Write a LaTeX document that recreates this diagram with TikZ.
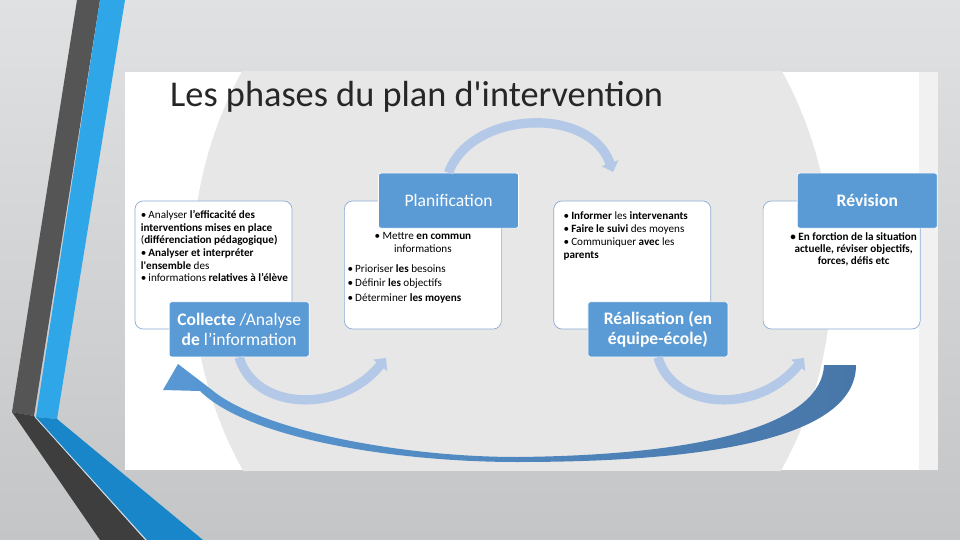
\documentclass[tikz,border=0pt]{standalone}
\usepackage{fontspec}
\setmainfont{Carlito}
\usetikzlibrary{arrows.meta, positioning}

\definecolor{slidetop}{RGB}{224,225,226}
\definecolor{slidebot}{RGB}{195,197,199}
\definecolor{darkbar}{RGB}{85,85,85}
\definecolor{darkbarlow}{RGB}{62,62,62}
\definecolor{bluebar}{RGB}{46,166,232}
\definecolor{bluebarlow}{RGB}{24,134,200}
\definecolor{disc}{RGB}{231,231,231}
\definecolor{phaseblue}{RGB}{91,155,213}
\definecolor{cardline}{RGB}{140,172,214}
\definecolor{loopblue}{RGB}{180,201,232}
\definecolor{backA}{RGB}{88,152,212}
\definecolor{backB}{RGB}{72,118,168}
\definecolor{titlegray}{RGB}{38,38,38}

\newcommand{\itm}{\par\hangindent=6.5pt\hangafter=1\noindent\makebox[6.5pt][l]{•}}

\begin{document}
\begin{tikzpicture}[
    x=0.03cm, y=-0.03cm,
    node distance = 1.55cm,
    card/.style={
        draw=cardline, fill=white, line width=.6pt, rounded corners=7pt,
        minimum width=4.71cm, minimum height=3.84cm
    },
    phase/.style={
        draw=white, fill=phaseblue, line width=.6pt, rounded corners=2pt,
        minimum width=4.2cm, minimum height=1.65cm, inner sep=2pt,
        text=white, align=center, font=\fontsize{15}{17.5}\selectfont
    },
    txt/.style={
        inner sep=0pt, align=flush left, font=\fontsize{9.5}{10.8}\selectfont
    },
    loop/.style={
        draw=loopblue, line width=8pt, -{Triangle[length=8pt,width=15pt]}
    }
]

    \useasboundingbox (0,0) rectangle (960,540);
    \shade[top color=slidetop, bottom color=slidebot] (0,0) rectangle (960,540);

    \fill[darkbar] (77,0) -- (100,0) -- (34,416) -- (12,412) -- cycle;
    \fill[darkbarlow] (12,412) -- (34,416) -- (145,540) -- (100,540) -- cycle;
    \fill[bluebar] (100,0) -- (125,0) -- (57,419) -- (36,417) -- cycle;
    \fill[bluebarlow] (36,417) -- (57,419) -- (203,540) -- (147,540) -- cycle;
    \draw[white!75!bluebar, line width=.5pt] (35,417) -- (146,540);

    \fill[white] (125,72) rectangle (919,470);
    \begin{scope}
        \clip (125,72) rectangle (919,470);
        \fill[disc] (512,270) ellipse [x radius=9.6cm, y radius=11.1cm];
    \end{scope}
    \fill[disc!60!white] (919,72) rectangle (938,470);

    \node[anchor=base west, inner sep=0pt, text=titlegray, font=\fontsize{31}{31}\selectfont](title) at (170,107){Les phases du plan d\textquotesingle intervention};

    \path[left color=backA, right color=backB]
        (824,365) -- (856,365)
        .. controls (856,430) and (740,462) .. (517,462)
        .. controls (400,462) and (250,440) .. (200,391)
        -- (163,390) -- (178,364) -- (212,390)
        .. controls (260,430) and (400,457) .. (517,457)
        .. controls (720,455) and (822,420) .. (824,365) -- cycle;

    \node[card](c1) at (213.5,265){};
    \node[card,right=of c1](c2){};
    \node[card,right=of c2](c3){};
    \node[card,right=of c3](c4){};

    \node[phase](p1) at ([xshift=.77cm]c1.south){\textbf{Collecte} /Analyse\\\textbf{de} l’information};
    \node[phase](p2) at ([xshift=.77cm]c2.north){Planification};
    \node[phase](p3) at ([xshift=.77cm]c3.south){\textbf{Réalisation (en}\\\textbf{équipe-école)}};
    \node[phase](p4) at ([xshift=.77cm]c4.north){\textbf{Révision}};

    \node[txt, text width=4.7cm, anchor=north west](t1) at ([shift={(.18cm,-.15cm)}]c1.north west){
        \itm Analyser \textbf{l’efficacité des}\\\textbf{interventions mises en place}\\(\textbf{différenciation pédagogique)}
        \itm \textbf{Analyser et interpréter}\\\textbf{l\textquotesingle ensemble} des
        \itm informations \textbf{relatives à l’élève}
    };
    \node[txt, align=flush center, anchor=north](t2a) at ([yshift=-.95cm]c2.north){
        • Mettre \textbf{en commun}\\informations
    };
    \node[txt, text width=4.5cm, anchor=north west, font=\fontsize{9.5}{12.3}\selectfont](t2b) at ([shift={(.1cm,-1.71cm)}]c2.north west){
        \itm Prioriser \textbf{les} besoins
        \itm Définir \textbf{les} objectifs
        \itm Déterminer \textbf{les moyens}
    };
    \node[txt, text width=4.5cm, anchor=north west, font=\fontsize{9.5}{11.3}\selectfont](t3) at ([shift={(.3cm,-.15cm)}]c3.north west){
        \itm \textbf{Informer} les \textbf{intervenants}
        \itm \textbf{Faire le suivi} des moyens
        \itm Communiquer \textbf{avec} les\\\textbf{parents}
    };
    \node[txt, align=flush center, anchor=north, font=\fontsize{9.5}{10.2}\selectfont](t4) at ([shift={(.36cm,-.95cm)}]c4.north){
        \textbf{• En forction de la situation}\\\textbf{actuelle, réviser objectifs,}\\\textbf{forces, défis etc}
    };

    \coordinate (e1) at (386,358);
    \coordinate (e2) at (613,172);
    \coordinate (e3) at (804,358);
    \draw[loop] (p1.south) .. controls +(15,53) and +(-46,57) .. (e1);
    \draw[loop] (p2.north) .. controls +(22,-62) and +(-23,-67) .. (e2);
    \draw[loop] (p3.south) .. controls +(15,53) and +(-46,57) .. (e3);

\end{tikzpicture}
\end{document}
